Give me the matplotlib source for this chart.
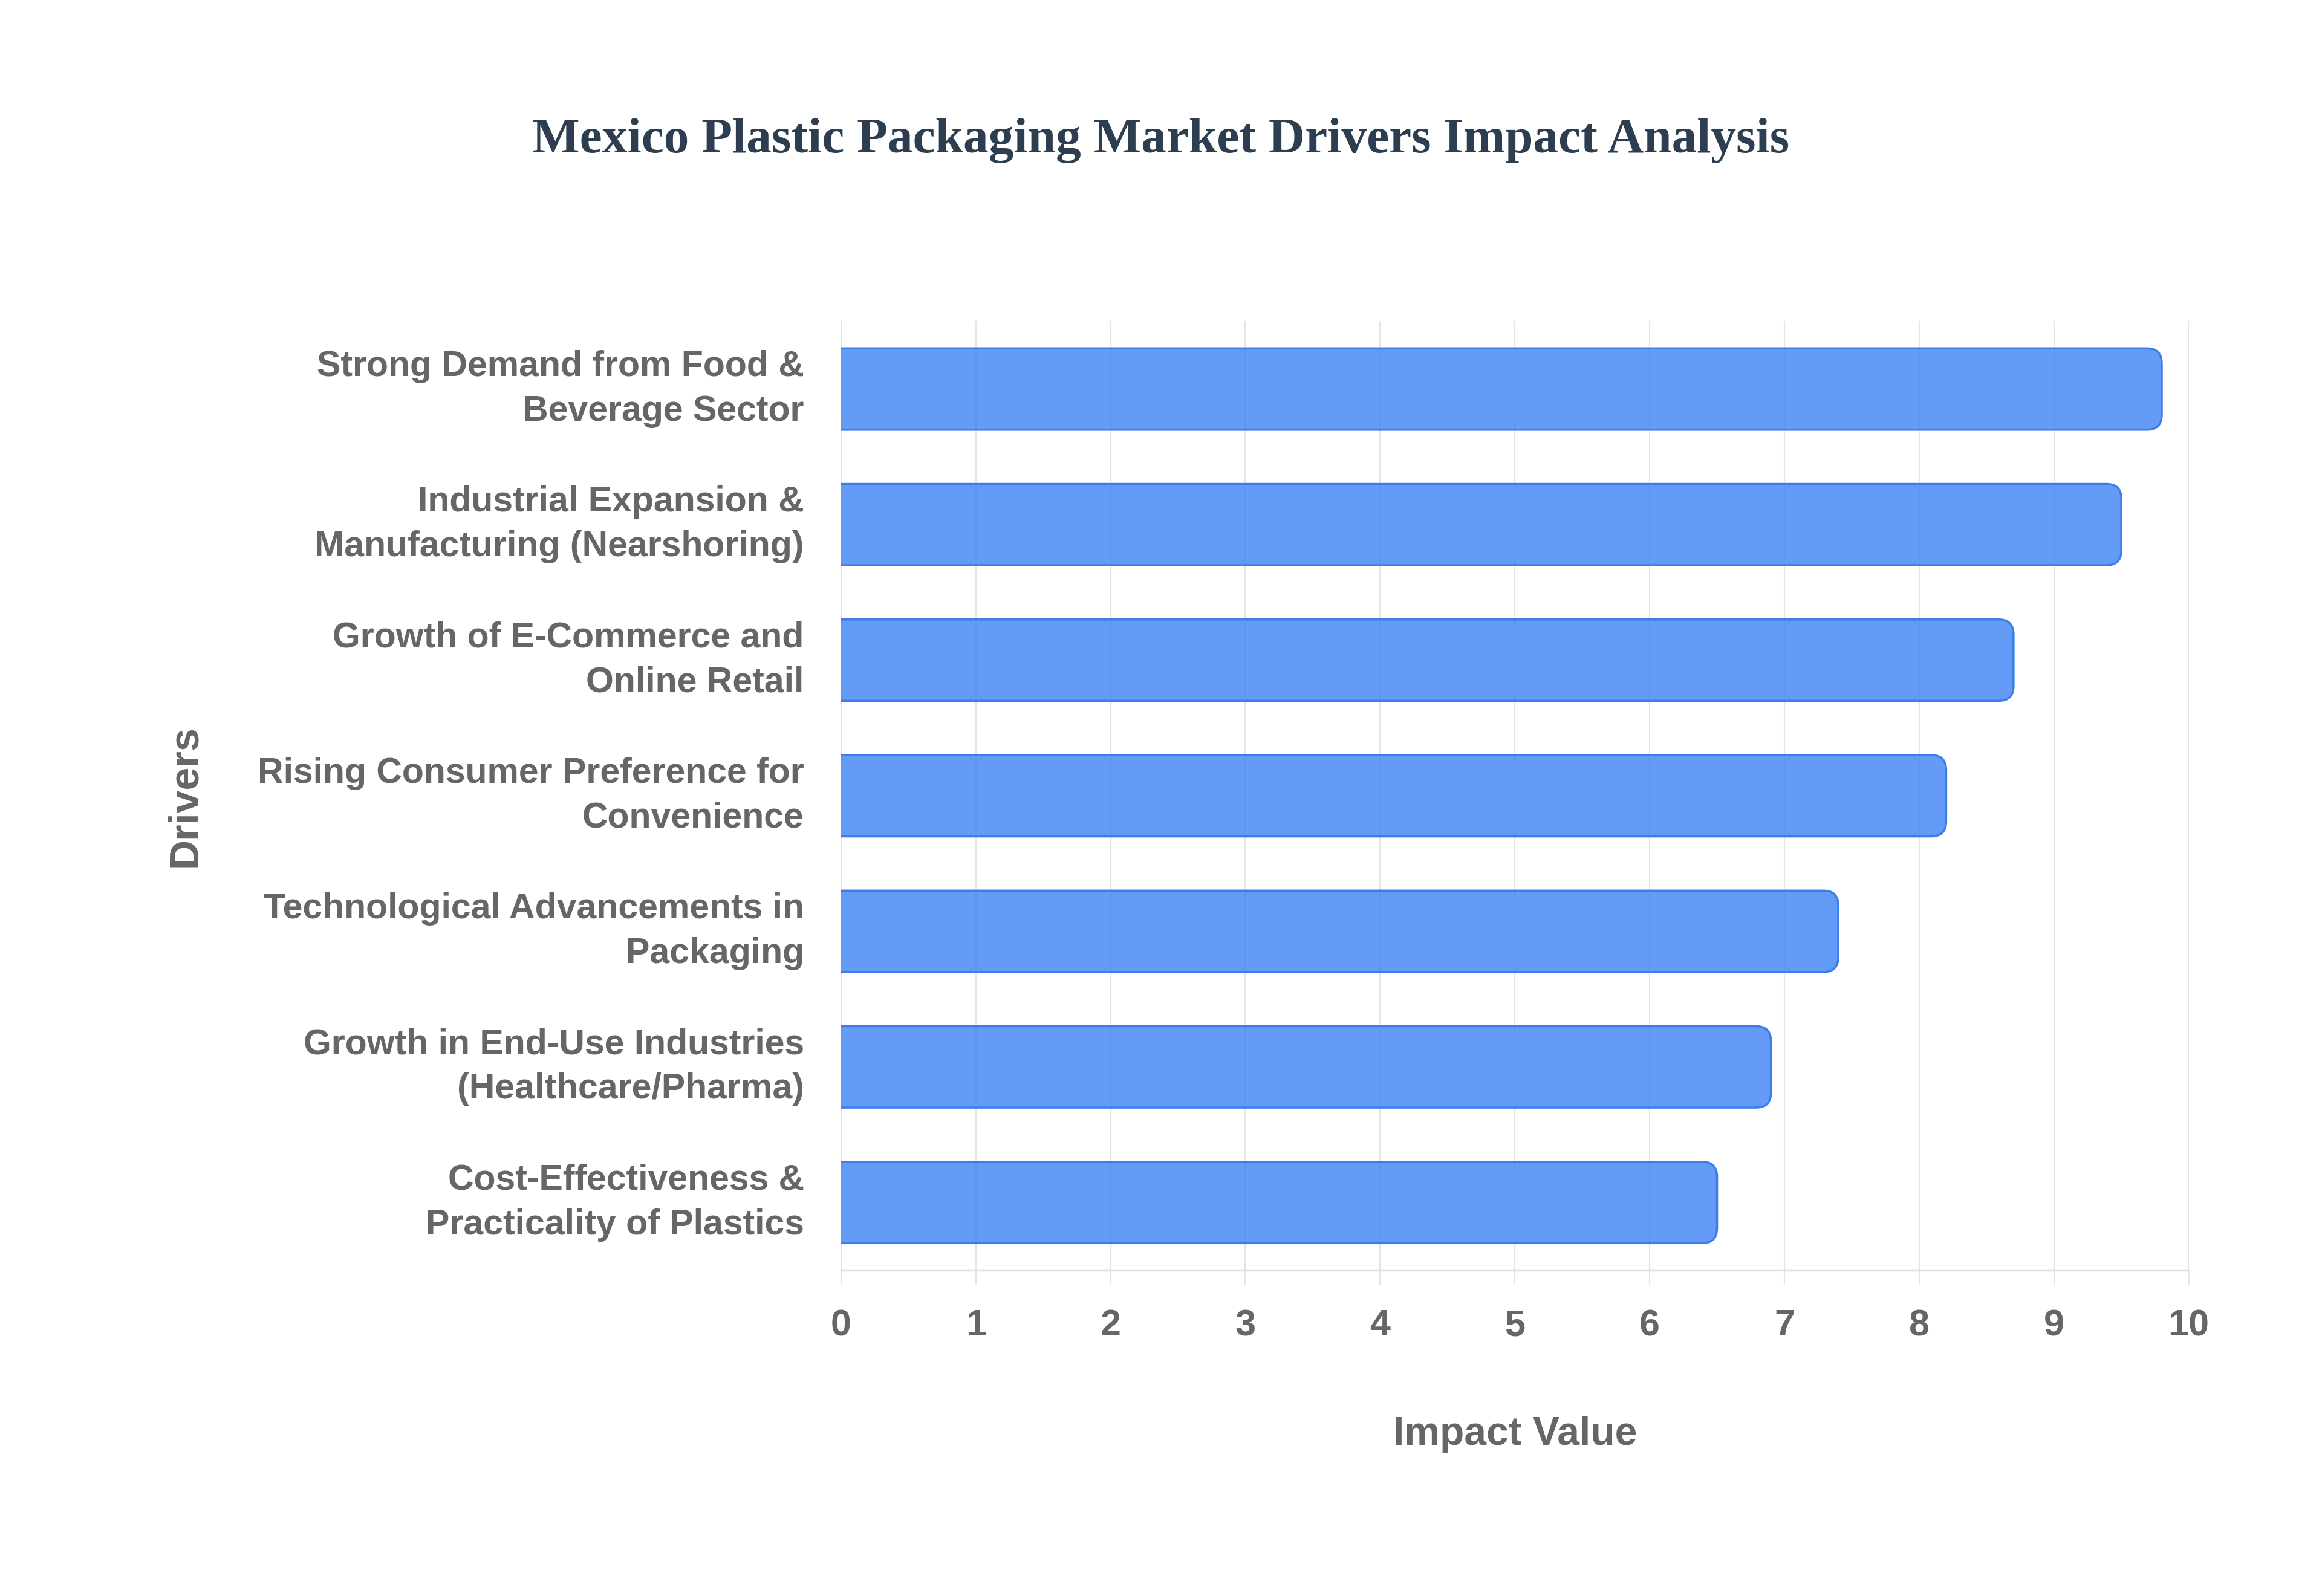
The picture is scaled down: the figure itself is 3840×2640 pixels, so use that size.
import matplotlib
matplotlib.use("Agg")
import matplotlib.pyplot as plt
from matplotlib.patches import FancyBboxPatch

# data (top to bottom as shown)
drivers = [
    "Strong Demand from Food &\nBeverage Sector",
    "Industrial Expansion &\nManufacturing (Nearshoring)",
    "Growth of E-Commerce and\nOnline Retail",
    "Rising Consumer Preference for\nConvenience",
    "Technological Advancements in\nPackaging",
    "Growth in End-Use Industries\n(Healthcare/Pharma)",
    "Cost-Effectiveness &\nPracticality of Plastics",
]
impact = [9.8, 9.5, 8.7, 8.2, 7.4, 6.9, 6.5]
x_ticks = list(range(0, 11))

TEXT = "#666666"
GRID = "#e5e5e5"
SANS = "Liberation Sans"

fig = plt.figure(figsize=(38.4, 26.4), dpi=100)
ax = fig.add_axes([0.3622, 0.2041, 0.5804, 0.5946])

pos = list(range(len(drivers)))
bars = ax.barh(pos, impact, height=0.6)

# swap plain rectangles for ones with rounded right ends
for rect in bars:
    x0, y0 = rect.get_x(), rect.get_y()
    w, h = rect.get_width(), rect.get_height()
    rect.set_visible(False)
    patch = FancyBboxPatch((x0 - 0.3, y0), w + 0.3, h,
                           boxstyle="round,pad=0,rounding_size=0.11",
                           mutation_aspect=1,
                           fc=(66/255, 133/255, 244/255, 0.82),
                           ec="#3b7de9", lw=2.5, zorder=3)
    ax.add_patch(patch)

ax.set_xlim(0, 10)
ax.set_ylim(len(drivers) - 0.5, -0.5)
ax.set_xticks(x_ticks)
ax.set_yticks(pos)
ax.set_yticklabels(drivers, linespacing=1.45, va="center")

ax.xaxis.grid(True, color=GRID, lw=1.6, zorder=0)
ax.set_axisbelow(True)
for s in ["top", "right", "left"]:
    ax.spines[s].set_visible(False)
ax.spines["bottom"].set_color("#dedede")
ax.spines["bottom"].set_linewidth(2.5)

ax.tick_params(axis="x", length=18, width=1.6, color=GRID, pad=28)
ax.tick_params(axis="y", length=0, pad=44)
for lab in ax.get_xticklabels():
    lab.set_fontsize(44)
for lab in ax.get_yticklabels():
    lab.set_fontsize(42.5)
for lab in ax.get_xticklabels() + ax.get_yticklabels():
    lab.set_fontfamily(SANS)
    lab.set_fontweight("bold")
    lab.set_color(TEXT)

fig.text(0.5, 0.912, "Mexico Plastic Packaging Market Drivers Impact Analysis",
         ha="center", va="center", fontsize=60, fontweight="bold",
         family="Liberation Serif", color="#2c3e50")
fig.text(0.6524, 0.101, "Impact Value", ha="center", va="center",
         fontsize=47.5, fontweight="bold", family=SANS, color=TEXT)
fig.text(0.0797, 0.5013, "Drivers", ha="center", va="center", rotation=90,
         fontsize=49, fontweight="bold", family=SANS, color=TEXT)

fig.savefig("out.png", dpi=100, facecolor="white")
